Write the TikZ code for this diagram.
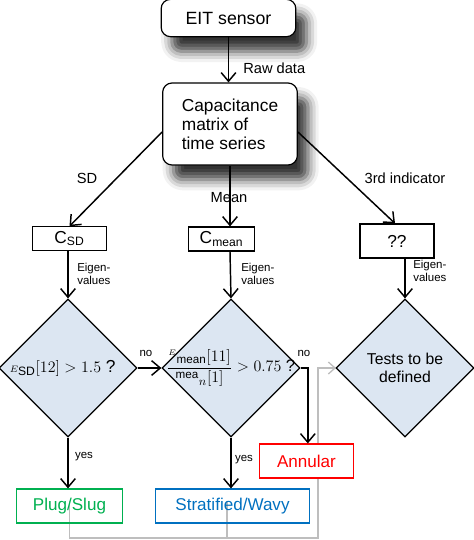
\documentclass[tikz,border=0pt]{standalone}
\usepackage{amsmath}
\usepackage{fontspec}
\setmainfont{Liberation Sans}
\usepackage{tikz}
\usetikzlibrary{arrows.meta}
\usetikzlibrary{shapes.geometric}
\usetikzlibrary{shadows.blur}

\definecolor{decfill}{RGB}{220,230,242}
\definecolor{plugcol}{RGB}{0,176,80}
\definecolor{stratcol}{RGB}{0,112,192}
\definecolor{annucol}{RGB}{255,0,0}
\definecolor{backcol}{RGB}{190,190,190}

\tikzset{
  flow/.style={-{Straight Barb[length=6.5pt,width=11pt]}, line width=1.1pt},
  back/.style={-{Straight Barb[length=5pt,width=9pt]}, line width=1pt, draw=backcol},
  roundbox/.style={draw, rounded corners=7pt, line width=0.9pt, fill=white, inner sep=0pt,
    blur shadow={shadow xshift=8pt, shadow yshift=-11pt, shadow blur radius=8pt, shadow opacity=80}},
  databox/.style={draw, line width=0.9pt, fill=white, inner sep=0pt, font=\fontsize{13}{15}\selectfont},
  decision/.style={draw, diamond, fill=decfill, line width=0.9pt, inner sep=0pt, aspect=1,
    minimum width=103.5pt, minimum height=103.5pt},
  result/.style={draw=#1, text=#1, line width=0.9pt, inner sep=0pt, minimum height=25.5pt,
    font=\fontsize{12.8}{14}\selectfont},
  edgelabel/.style={font=\fontsize{11}{12}\selectfont, inner sep=0pt},
  smalllabel/.style={font=\fontsize{8.6}{10}\selectfont, inner sep=0pt, align=left},
}

\begin{document}
\begin{tikzpicture}[x=0.75pt,y=-0.75pt]
    \useasboundingbox (0,0) rectangle (474,540);
    % feedback path (grey)
    \coordinate (loop) at (318,538);
    \draw[back] ([yshift=4pt]69.5,506) |- (loop) |- (336,368);
    \draw[line width=1pt, draw=backcol] ([yshift=4pt]227,506) -- (227,538);
    % top
    \node[roundbox, minimum width=101pt, minimum height=28pt, font=\fontsize{13.3}{15}\selectfont] (eit) at (228.5,18) {EIT sensor};
    \node[roundbox, minimum width=101pt, minimum height=61.5pt, align=left, font=\fontsize{13}{14.3}\selectfont] (cap) at (230,124) {Capacitance\\matrix of\\time series};
    % indicators
    \node[databox, minimum width=56pt, minimum height=17.5pt] (csd) at (69.5,238.5) {C\textsubscript{SD}};
    \node[databox, minimum width=49pt, minimum height=18pt] (cmean) at (221.5,239) {C\textsubscript{mean}};
    \node[databox, minimum width=55.5pt, minimum height=25.5pt] (qq) at (397,241) {??};
    % decisions
    \node[decision, label={[font=\fontsize{13}{14}\selectfont, xshift=-4pt]center:{\scriptsize$E$}$_{\mathrm{SD}}[12] > 1.5$ ?}] (sddec) at (68,368) {};
    \node[decision, label={[font=\fontsize{12.5}{14}\selectfont]center:$\dfrac{{}^{\scriptscriptstyle E}{}_{\mathrm{mean}}[11]}{{}^{\mathrm{mea}}{}_{n}[1]} > 0.75$ ?}] (meandec) at (231,368) {};
    \node[decision, align=center, font=\fontsize{11.8}{13}\selectfont] (testdec) at (405,368) {Tests to be\\defined};
    % flow regimes
    \node[result=plugcol, minimum width=79pt] (plug) at (69.5,506) {Plug/Slug};
    \node[result=stratcol, minimum width=116pt] (strat) at (232.5,506) {Stratified/Wavy};
    \node[result=annucol, minimum width=70pt, fill=white] (annu) at (306.5,461) {Annular};
    % arrows
    \draw[flow] (eit.south) -- (eit.south |- cap.north);
    \draw[flow] ([yshift=-6pt]cap.west) -- (csd.north);
    \draw[flow] (cap.south) -- (cap.south |- cmean.north);
    \draw[flow] ([yshift=-6pt]cap.east) -- ([xshift=-1.5pt]qq.north);
    \draw[flow] (csd.south -| sddec.north) -- (sddec.north);
    \draw[flow] (cap.south |- cmean.south) -- (meandec.north);
    \draw[flow] (qq.south -| testdec.north) -- (testdec.north);
    \draw[flow] (sddec.east) -- (meandec.west);
    \draw[flow] (meandec.east) -| ([xshift=1pt]annu.north);
    \draw[flow] (sddec.south) -- (sddec.south |- plug.north);
    \draw[flow] (meandec.south) -- (meandec.south |- strat.north);
    % labels
    \node[edgelabel, anchor=west] (raw) at (243,68) {Raw data};
    \node[edgelabel] (sd) at (87,178) {SD};
    \node[edgelabel] (mean) at (229,198) {Mean};
    \node[edgelabel] (third) at (405,178) {3rd indicator};
    \node[smalllabel, anchor=west] (eig1) at (77,274) {Eigen-\\values};
    \node[smalllabel, anchor=west] (eig2) at (241,274) {Eigen-\\values};
    \node[smalllabel, anchor=west] (eig3) at (413,271) {Eigen-\\values};
    \node[smalllabel] (no1) at (146,353) {no};
    \node[smalllabel] (no2) at (304,353) {no};
    \node[smalllabel] (yes1) at (84,457) {yes};
    \node[smalllabel] (yes2) at (244,460) {yes};
\end{tikzpicture}
\end{document}
